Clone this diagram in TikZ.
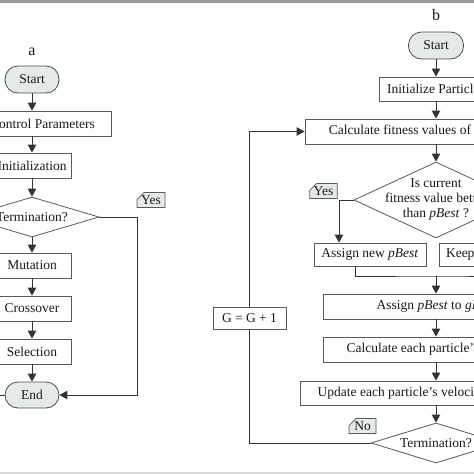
\documentclass[tikz,border=0pt]{standalone}
\usepackage{fontspec}
\setmainfont{Liberation Serif}
\usetikzlibrary{shapes}
\usetikzlibrary{arrows.meta}

\definecolor{capfill}{HTML}{E4E9E9}

\begin{document}
\begin{tikzpicture}[x=1pt,y=-1pt]
			\tikzset{base/.style = {font=\fontsize{13.5}{15}\selectfont, text=black!90}}
			\tikzset{proc/.style = {base, shape=rectangle, draw=black!65, fill=white,
					line width=0.8pt, minimum height=25pt, inner sep=0pt}}
			\tikzset{term/.style = {base, shape=rectangle, rounded corners=13pt,
					draw=black!70, fill=capfill, line width=0.8pt,
					minimum width=54pt, minimum height=27pt, inner sep=0pt}}
			\tikzset{decide/.style = {base, shape=diamond, draw=black!65, fill=white,
					line width=0.8pt, inner sep=0pt}}
			\tikzset{tag/.style = {base, shape=chamfered rectangle,
					chamfered rectangle corners=north west, chamfered rectangle xsep=4pt,
					draw=black!65, fill=capfill, line width=0.7pt, inner sep=0pt,
					minimum width=28pt, minimum height=15pt}}
			\tikzset{edge/.style = {-{Triangle[length=8pt,width=8.5pt]}, draw=black!80, line width=0.9pt}}
			\tikzset{link/.style = {draw=black!80, line width=0.9pt}}
			
			\useasboundingbox (0,0) rectangle (474,474);
			\clip (0,0) rectangle (474,474);
			\fill[black!40] (0,0) rectangle (474,3);
			\fill[black!15] (0,472) rectangle (474,474);
			
			% panel a
			\node[base, font=\fontsize{16}{18}\selectfont] (lbla) at (32,52) {a};
			\node[term] (startA) at (32,79.5) {Start};
			\node[proc, minimum width=137pt] (ctrl) at (42.5,123.5) {Control Parameters};
			\node[proc, minimum width=78pt] (init) at (32,165.5) {Initialization};
			\node[decide, minimum width=134pt, minimum height=40pt,
				label={[base]center:Termination?}] (termA) at (32,217) {};
			\node[proc, minimum width=78pt] (mut) at (32,265.5) {Mutation};
			\node[proc, minimum width=78pt] (cross) at (32,308.5) {Crossover};
			\node[proc, minimum width=78pt] (sel) at (32,351.5) {Selection};
			\node[term, minimum height=26pt] (endA) at (32,395) {End};
			\node[tag] (yesA) at (151,200) {Yes};
			\coordinate (cornA) at (137,217);
			\coordinate (inA) at (-20,395);
			
			%edges
			\draw[edge] (startA) -- (startA |- ctrl.north);
			\draw[edge] (startA |- ctrl.south) -- (init);
			\draw[edge] (init) -- (termA);
			\draw[edge] (termA) -- (mut);
			\draw[edge] (mut) -- (cross);
			\draw[edge] (cross) -- (sel);
			\draw[edge] (sel) -- (endA);
			\draw[edge] (termA.east) -- (cornA) |- (endA.east);
			\draw[link] (inA) -- (endA.west);
			
			% panel b
			\node[base, font=\fontsize{16}{18}\selectfont] (lblb) at (436,15) {b};
			\node[term, minimum width=55pt] (startB) at (436,45.5) {Start};
			\node[proc, minimum width=114pt, minimum height=24pt] (initP) at (436,89) {Initialize Particles};
			\node[proc, minimum width=262pt] (calcF) at (436,131.5) {Calculate fitness values of each particle};
			\node[decide, minimum width=164pt, minimum height=76pt,
				label={[base, align=center]center:Is current\\fitness value better\\than \textit{pBest} ?}] (dec) at (436,200) {};
			\node[tag, minimum width=27pt] (yesB) at (323.5,191) {Yes};
			\node[proc, minimum width=112pt, minimum height=23pt] (assignNew) at (370,254.5) {Assign new \textit{pBest}};
			\node[proc, minimum width=126pt, minimum height=23pt] (keep) at (502,254.5) {Keep previous \textit{pBest}};
			\coordinate (mrg) at (436,276);
			\node[proc, minimum width=226pt] (assignG) at (436,306.5) {Assign \textit{pBest} to \textit{gBest}};
			\node[proc, minimum width=226pt] (calcV) at (436,349.5) {Calculate each particle's velocity};
			\node[proc, minimum width=272pt, minimum height=24pt] (update) at (436,393) {Update each particle's velocity and position};
			\node[decide, minimum width=130pt, minimum height=40pt,
				label={[base]center:Termination?}] (termB) at (436,443) {};
			\node[tag, minimum width=27pt] (noB) at (362.5,426) {No};
			\node[proc, minimum width=73pt, minimum height=22pt] (gnext) at (249.5,318) {G = G + 1};
			
			%edges
			\draw[edge] (startB) -- (initP);
			\draw[edge] (initP) -- (calcF);
			\draw[edge] (calcF) -- (dec);
			\draw[edge] (dec.west) -| ([xshift=-31pt]assignNew.north);
			\draw[link] ([xshift=-15pt]assignNew.south) |- (mrg) -| (keep.south);
			\draw[edge] (mrg) -- (assignG);
			\draw[edge] (assignG) -- (calcV);
			\draw[edge] (calcV) -- (update);
			\draw[edge] (update) -- (termB);
			\draw[link] (termB.west) -| (gnext.south);
			\draw[edge] (gnext.north) |- (calcF.west);
			
\end{tikzpicture}
\end{document}
